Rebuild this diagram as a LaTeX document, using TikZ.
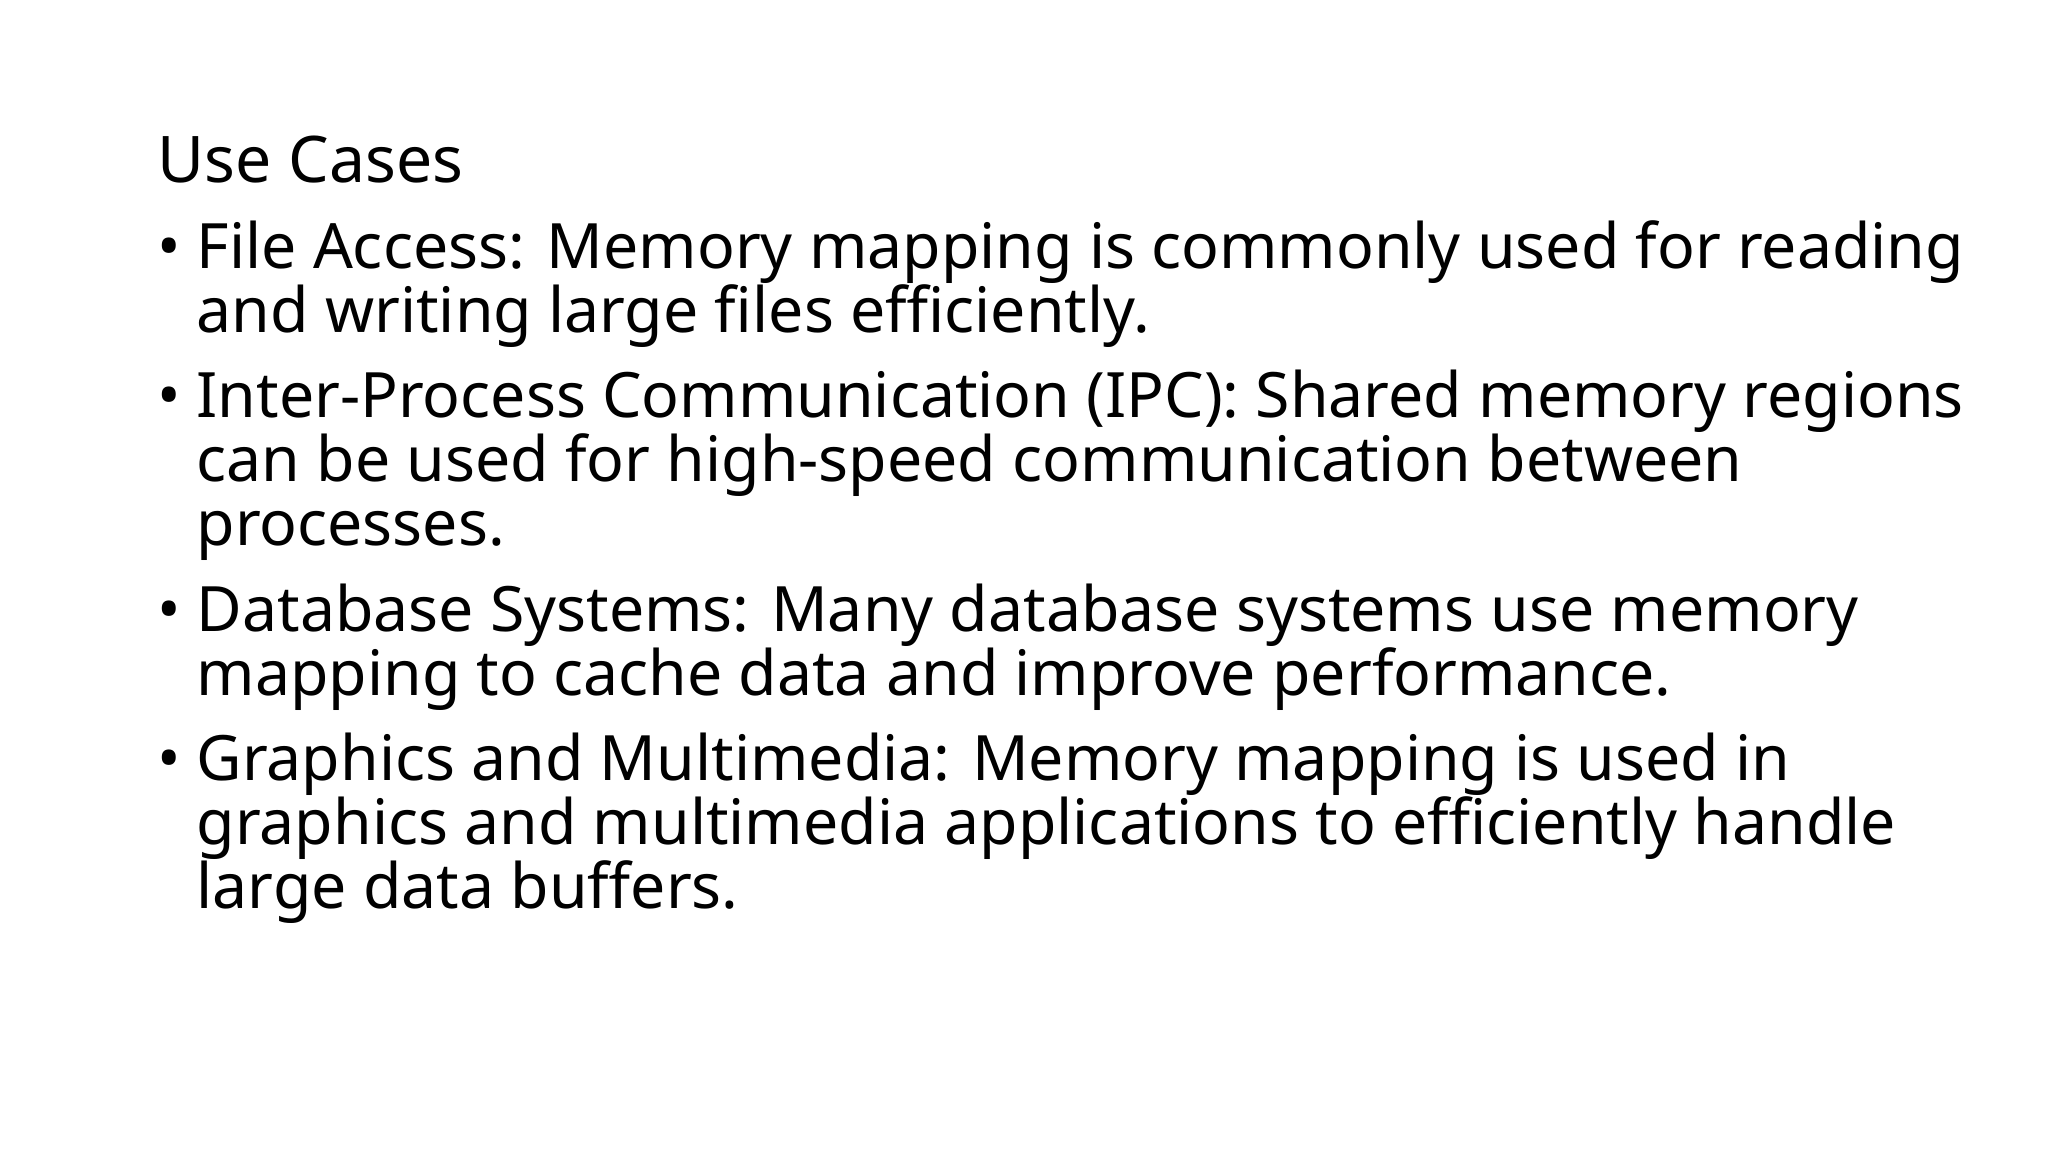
\documentclass[tikz,border=0pt]{standalone}
\usepackage{fontspec}
\setmainfont{Noto Sans}
\begin{document}
\begin{tikzpicture}[x=1cm,y=1cm,
  ln/.style={anchor=base west,inner sep=0pt,font=\fontsize{17.8pt}{18pt}\selectfont},
  ttl/.style={anchor=base west,inner sep=0pt,font=\fontsize{18.3pt}{19pt}\selectfont\bfseries}]
\useasboundingbox (0,0) rectangle (20.48,11.52);
\node[ttl] (t) at (1.57,11.52-1.83) {Use Cases};
\node[ln] (b1) at (1.57,11.52-2.69) {•};
\node[ln] (l1) at (1.96,11.52-2.69) {File Access: Memory mapping is commonly used for reading};
\node[ln] (l2) at (1.96,11.52-3.33) {and writing large files efficiently.};
\node[ln] (b2) at (1.57,11.52-4.18) {•};
\node[ln] (l3) at (1.96,11.52-4.18) {Inter-Process Communication (IPC): Shared memory regions};
\node[ln] (l4) at (1.96,11.52-4.82) {can be used for high-speed communication between};
\node[ln] (l5) at (1.96,11.52-5.46) {processes.};
\node[ln] (b3) at (1.57,11.52-6.32) {•};
\node[ln] (l6) at (1.96,11.52-6.32) {Database Systems: Many database systems use memory};
\node[ln] (l7) at (1.96,11.52-6.96) {mapping to cache data and improve performance.};
\node[ln] (b4) at (1.57,11.52-7.81) {•};
\node[ln] (l8) at (1.96,11.52-7.81) {Graphics and Multimedia: Memory mapping is used in};
\node[ln] (l9) at (1.96,11.52-8.45) {graphics and multimedia applications to efficiently handle};
\node[ln] (l10) at (1.96,11.52-9.09) {large data buffers.};
\end{tikzpicture}
\end{document}
